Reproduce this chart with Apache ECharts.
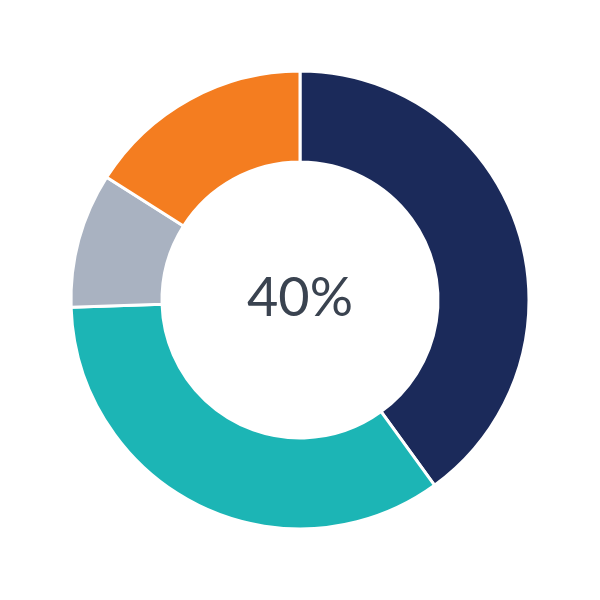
<!DOCTYPE html>
<html>
<head>
<meta charset="utf-8">
<script src="https://cdn.jsdelivr.net/npm/echarts@6/dist/echarts.min.js"></script>
<style>html,body{margin:0;padding:0;background:#fff;}#c{width:600px;height:600px;}</style>
</head>
<body>
<div id="c"></div>
<script>
var categories = ['A', 'B', 'C', 'D'];
var values = [40, 34.5, 9.5, 16];
var colors = ['#1b2a5a', '#1cb5b5', '#a9b2c1', '#f47d20'];
var centerLabel = '40%';

var chart = echarts.init(document.getElementById('c'), null, {renderer: 'canvas'});
chart.setOption({
  animation: false,
  graphic: [{
    type: 'text',
    left: 'center',
    top: 272,
    style: {
      text: centerLabel,
      font: '400 54px Lato',
      fill: '#3a4350'
    }
  }],
  series: [{
    type: 'pie',
    center: [300, 300],
    radius: [138, 229],
    startAngle: 90,
    clockwise: true,
    label: {show: false},
    labelLine: {show: false},
    itemStyle: {borderColor: '#fff', borderWidth: 3},
    emphasis: {disabled: true},
    data: categories.map(function (c, i) {
      return {name: c, value: values[i], itemStyle: {color: colors[i]}};
    })
  }]
});
</script>
</body>
</html>
